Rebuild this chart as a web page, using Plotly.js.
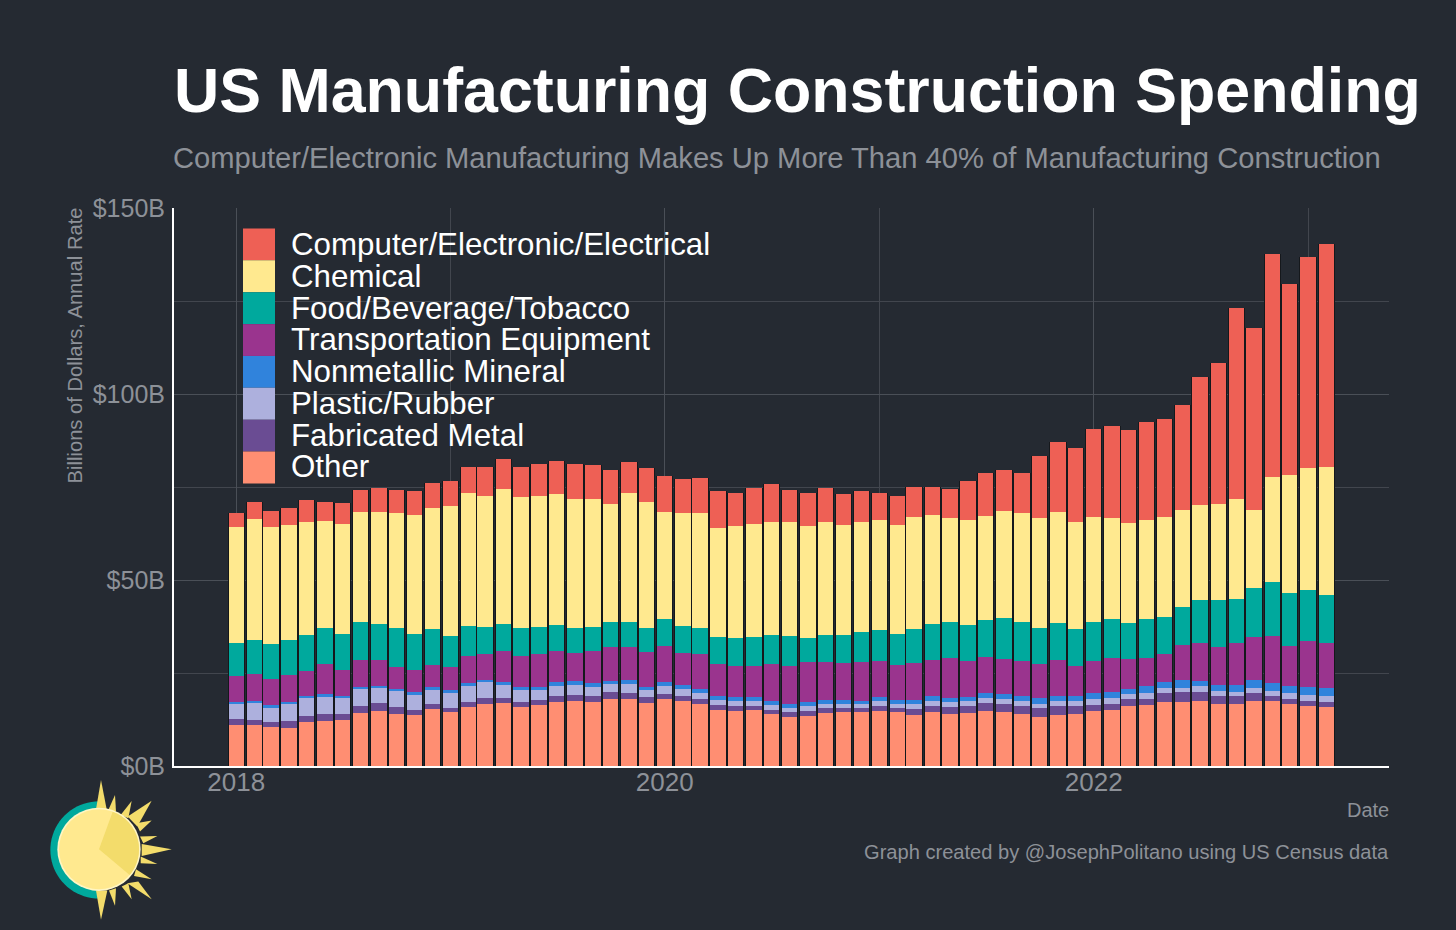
<!DOCTYPE html>
<html><head><meta charset="utf-8">
<script src="https://cdn.plot.ly/plotly-3.0.1.min.js"></script>
<style>html,body{margin:0;padding:0;background:#252A32}</style></head>
<body><div id="chart" style="width:1456px;height:930px"></div>
<script>
const dates = ["2018-01-01","2018-02-01","2018-03-01","2018-04-01","2018-05-01","2018-06-01","2018-07-01","2018-08-01","2018-09-01","2018-10-01","2018-11-01","2018-12-01",
"2019-01-01","2019-02-01","2019-03-01","2019-04-01","2019-05-01","2019-06-01","2019-07-01","2019-08-01","2019-09-01","2019-10-01","2019-11-01","2019-12-01",
"2020-01-01","2020-02-01","2020-03-01","2020-04-01","2020-05-01","2020-06-01","2020-07-01","2020-08-01","2020-09-01","2020-10-01","2020-11-01","2020-12-01",
"2021-01-01","2021-02-01","2021-03-01","2021-04-01","2021-05-01","2021-06-01","2021-07-01","2021-08-01","2021-09-01","2021-10-01","2021-11-01","2021-12-01",
"2022-01-01","2022-02-01","2022-03-01","2022-04-01","2022-05-01","2022-06-01","2022-07-01","2022-08-01","2022-09-01","2022-10-01","2022-11-01","2022-12-01",
"2023-01-01","2023-02-01"];
const other = [11.0,10.9,10.5,10.3,11.9,12.2,12.5,14.3,14.9,14.1,13.6,15.4,14.4,15.8,16.8,17.0,15.8,16.3,17.3,17.5,17.3,18.0,18.0,17.0,18.0,17.5,16.6,15.0,14.9,15.0,13.9,13.1,13.5,14.2,14.5,14.4,14.9,14.4,13.8,14.5,14.1,14.2,14.9,14.5,14.0,13.2,13.8,14.0,14.7,15.1,16.1,16.3,17.1,17.3,17.5,16.7,16.7,17.5,17.5,16.6,16.1,15.8];
const fabricated = [1.6,1.4,1.4,1.8,1.6,1.8,1.6,1.9,2.0,1.8,1.5,1.3,1.2,1.3,1.4,1.4,1.4,1.4,1.5,1.7,1.6,1.8,1.7,1.5,1.3,1.3,1.3,1.3,1.3,1.1,1.2,1.3,1.3,1.3,1.1,1.3,1.2,1.2,1.6,1.7,1.7,2.0,2.0,2.1,2.1,2.3,2.3,2.1,1.8,1.7,1.9,1.8,2.4,2.5,2.4,2.2,2.1,2.2,1.3,1.3,1.3,1.3];
const plastic = [4.1,4.7,3.8,4.6,4.7,4.6,4.1,4.5,4.1,4.2,4.1,3.8,4.0,4.5,4.4,3.5,3.1,2.7,2.7,2.7,2.4,2.2,2.4,2.0,2.3,1.9,1.8,1.4,1.3,1.4,1.2,1.2,1.2,1.1,1.1,0.9,1.3,1.1,1.3,1.3,1.4,1.4,1.4,1.4,1.4,1.2,1.4,1.3,1.5,1.4,1.3,1.5,1.4,1.3,1.5,1.3,1.2,1.3,1.3,1.7,1.8,1.8];
const nonmetallic = [0.5,0.6,0.7,0.6,0.5,0.8,0.7,0.6,0.6,0.6,0.7,0.7,0.8,0.8,0.6,0.8,0.9,0.9,1.0,1.0,0.9,0.9,0.9,0.8,0.9,1.0,1.0,1.0,1.1,1.1,1.1,1.1,1.1,1.2,1.0,1.0,1.1,1.1,1.1,1.3,1.2,0.9,1.4,1.3,1.4,1.7,1.4,1.4,1.7,1.7,1.3,1.9,1.7,2.0,1.5,1.7,1.9,2.0,2.1,2.0,2.1,2.1];
const transportation = [6.9,7.2,7.0,7.2,6.8,8.1,6.8,7.2,6.9,6.0,6.0,5.9,6.1,7.1,7.0,8.1,8.5,8.9,8.5,7.6,8.6,9.2,9.0,9.3,9.7,8.6,9.3,8.6,8.3,8.3,10.1,10.3,10.8,10.1,10.0,10.4,9.6,9.3,9.8,9.8,10.5,9.8,9.5,9.5,9.3,9.0,9.5,8.0,8.5,9.0,8.1,7.6,7.6,9.3,10.3,10.2,11.2,11.7,12.7,10.6,12.2,12.0];
const food = [8.9,9.1,9.5,9.4,9.7,9.7,9.9,10.1,9.8,10.4,9.6,9.6,8.5,8.1,7.1,7.3,7.3,7.2,6.9,6.5,6.6,6.6,6.7,6.5,7.2,7.3,7.2,7.5,7.4,7.9,7.7,8.0,6.5,7.2,7.6,8.1,8.5,8.4,9.2,9.5,9.7,9.5,10.0,10.9,10.5,9.8,10.1,10.0,10.6,10.7,9.8,10.3,9.9,10.4,11.4,12.4,11.7,13.1,14.6,14.3,13.9,13.1];
const chemical = [31.2,32.6,31.3,30.9,30.3,28.6,29.4,29.6,30.0,31.0,31.9,32.7,34.9,35.8,35.3,36.4,35.2,35.3,35.3,34.8,34.5,31.6,34.8,33.8,29.0,30.5,30.7,29.3,30.2,30.2,30.5,30.7,30.1,30.4,29.4,29.6,29.4,29.3,30.1,29.3,28.0,28.2,28.0,28.8,29.3,29.4,29.7,28.7,28.2,27.1,26.9,26.7,26.9,26.0,25.5,25.8,26.9,20.9,28.1,31.7,32.6,34.3];
const computer = [3.9,4.4,4.3,4.6,5.9,5.2,5.6,6.1,6.3,6.1,6.4,6.8,6.6,6.9,7.7,8.1,8.2,8.4,8.9,9.4,9.0,9.3,8.3,9.2,9.6,9.0,9.6,9.8,9.0,9.8,10.1,8.5,9.0,9.3,8.4,8.1,7.4,7.7,8.0,7.5,7.8,10.7,11.6,11.0,10.7,16.7,19.0,20.1,23.7,24.6,25.0,26.3,26.2,28.3,34.4,38.1,51.3,49.0,60.0,51.5,56.7,60.0];
const legendLabels = ["Computer/Electronic/Electrical","Chemical","Food/Beverage/Tobacco","Transportation Equipment","Nonmetallic Mineral","Plastic/Rubber","Fabricated Metal","Other"];
const legendColors = ["#EE6055","#FFE98F","#00A99D","#9A348E","#3083DC","#ADB0DD","#6A4C93","#FF8E72"];
const seriesBottomUp = [other,fabricated,plastic,nonmetallic,transportation,food,chemical,computer];
const yTickVals = [0,50,100,150];
const yTickText = ["$0B","$50B","$100B","$150B"];

const W=1456,H=930,L=174,R=1389,T=207.5,B=766;
const px=x=>(x-L)/(R-L), py=y=>1-(y-T)/(B-T);
const grey="#8D9198", BG="#252A32";

// dark halo behind each stacked column (the dark slits between bars)
const totals = dates.map((d,i)=>seriesBottomUp.reduce((s,a)=>s+a[i],0));
const halo = {type:"bar",x:dates,y:totals,name:"",width:29.6*864e5,marker:{color:"#15181C",line:{width:0}},showlegend:false,yaxis:"y"};
const traces = [halo].concat(seriesBottomUp.map((vals,i)=>{
  const c=legendColors[legendColors.length-1-i];
  const name=legendLabels[legendLabels.length-1-i];
  return {type:"bar",x:dates,y:vals,name,width:26.1*864e5,marker:{color:c,line:{width:0}},showlegend:false,yaxis:"y2"};
}));

const shapes=[], annotations=[];
const labelY=[244,276,308,339.5,371.5,403,435,466.5];
legendLabels.forEach((t,i)=>{
  const y0=228+i*31.9;
  shapes.push({type:"rect",xref:"paper",yref:"paper",x0:px(243),x1:px(275),y0:py(y0),y1:py(y0+31.9),fillcolor:legendColors[i],line:{width:0}});
  annotations.push({xref:"paper",yref:"paper",x:px(289),y:py(labelY[i]),xanchor:"left",yanchor:"middle",text:t,showarrow:false,font:{size:31.3,color:"#FFFFFF"}});
});
const txt=(text,x,y,size,color,xa,extra)=>annotations.push(Object.assign({xref:"paper",yref:"paper",x:px(x),y:py(y),text,showarrow:false,xanchor:xa,yanchor:"middle",font:{size,color}},extra||{}));
txt("Computer/Electronic Manufacturing Makes Up More Than 40% of Manufacturing Construction",171,157.5,29.15,grey,"left");
txt("Date",1391,810.5,20,grey,"right");
txt("Graph created by @JosephPolitano using US Census data",1391,852,20.1,grey,"right");
annotations.push({xref:"paper",yref:"paper",x:px(75),y:py(205),text:"Billions of Dollars, Annual Rate",showarrow:false,textangle:-90,xanchor:"center",yanchor:"top",font:{size:20.2,color:grey}});

// logo (zoom coordinates to page pixels)
const zx=X=>30+X/3, zy=Y=>770+Y/3;
const poly=(pts,fill)=>shapes.push({type:"path",xref:"paper",yref:"paper",path:"M"+pts.map(p=>px(zx(p[0]))+","+py(zy(p[1]))).join("L")+"Z",fillcolor:fill,line:{width:0}});
const arc=(cx,cy,r,a0,a1)=>{const o=[];for(let k=0;k<=40;k++){const a=(a0+(a1-a0)*k/40)*Math.PI/180;o.push([cx+r*Math.cos(a),cy+r*Math.sin(a)]);}return o;};
poly(arc(207,240,146,90,270),"#00A99D");
const sun="#F3DC6B";
[[[198,118],[213,30],[230,118]],[[235,120],[255,75],[258,125]],[[272,135],[305,93],[295,145]],[[293,140],[365,92],[322,170]],[[318,160],[365,152],[330,185]],[[330,200],[382,198],[340,220]],[[335,222],[425,238],[335,258]],[[332,260],[382,282],[332,280]],[[318,298],[365,328],[312,318]],[[325,335],[365,388],[292,340]],[[275,350],[305,388],[295,340]],[[237,362],[255,408],[258,355]],[[198,362],[213,450],[232,362]]].forEach(s=>poly(s,sun));
poly(arc(207,238,125,0,360),"#FFF6C4");
poly(arc(207,238,120,0,360),"#FFE98F");
poly([[207,238]].concat(arc(207,238,120,-70,40)),sun);

Plotly.newPlot("chart",traces,{
  width:W,height:H,autosize:false,barmode:"stack",
  paper_bgcolor:BG,plot_bgcolor:BG,
  font:{family:"Liberation Sans, Arial, sans-serif",color:grey},
  margin:{l:L,r:W-R,t:T,b:H-B,pad:0},
  title:{text:"<b>US Manufacturing Construction Spending</b>",x:174/W,xanchor:"left",xref:"container",y:1-90.5/H,yref:"container",yanchor:"middle",font:{size:62.7,color:"#FFFFFF"}},
  xaxis:{type:"date",range:["2017-09-17","2023-05-19"],dtick:"M24",tick0:"2018-01-01",tickformat:"%Y",showgrid:true,gridcolor:"#4A4F57",gridwidth:1,
    minor:{dtick:"M12",tick0:"2018-01-01",showgrid:true,gridcolor:"#42464E",gridwidth:1},
    showline:true,linecolor:"#FFFFFF",linewidth:2,ticks:"",zeroline:false,tickfont:{size:26,color:grey},ticklabelstandoff:-8},
  yaxis:{range:[0,150],tickvals:yTickVals,ticktext:yTickText,showgrid:true,gridcolor:"#4A4F57",gridwidth:1,
    minor:{tickvals:[25,75,125],showgrid:true,gridcolor:"#42464E",gridwidth:1},
    showline:true,linecolor:"#FFFFFF",linewidth:2,ticks:"",zeroline:false,tickfont:{size:25,color:grey},ticklabelstandoff:2},
  yaxis2:{range:[0,150],overlaying:"y",visible:false,showgrid:false,zeroline:false},
  shapes,annotations,showlegend:false
},{staticPlot:true,displayModeBar:false});
</script></body></html>
